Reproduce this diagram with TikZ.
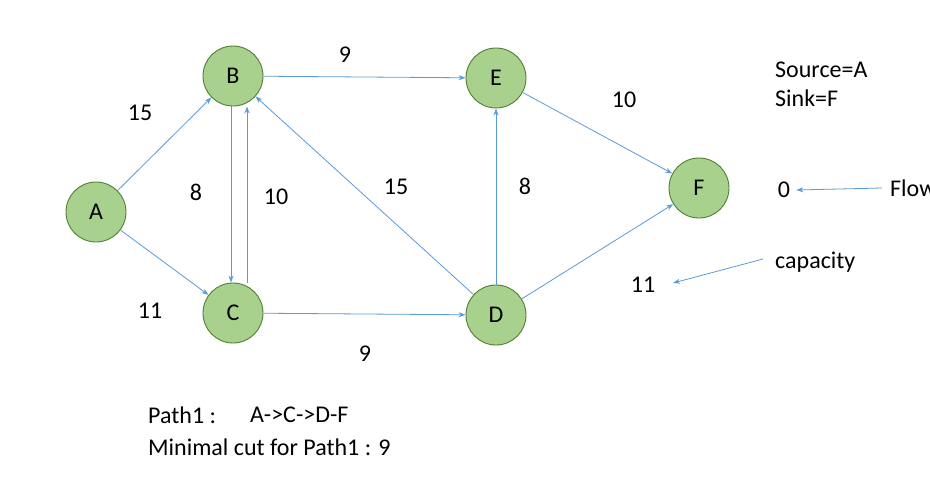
\documentclass[tikz,border=0pt]{standalone}
\usepackage{fontspec}
\setmainfont{Carlito}
\usetikzlibrary{arrows.meta}
\definecolor{nodefill}{HTML}{A9D18E}
\definecolor{nodeline}{HTML}{507E32}
\definecolor{edge}{HTML}{5B9BD5}
\begin{document}
\begin{tikzpicture}[x=1pt,y=-1pt,
  vert/.style={circle,fill=nodefill,draw=nodeline,line width=0.9pt,minimum size=60pt,inner sep=0pt,font=\fontsize{24}{28}\selectfont},
  con/.style={draw=edge,line width=0.8pt,-{Stealth[length=7pt,width=5pt]}},
  lab/.style={font=\fontsize{24}{28}\selectfont,inner sep=0pt}]
\useasboundingbox (0,0) rectangle (930,488);
\fill[white] (0,0) rectangle (930,488);
\node[vert] (A) at (96,212) {A};
\node[vert] (B) at (233,76) {B};
\node[vert] (C) at (233,313) {C};
\node[vert] (E) at (496,78) {E};
\node[vert] (D) at (496,315) {D};
\node[vert] (F) at (699,188) {F};
\draw[con] (A) -- (B);
\draw[con] (A) -- (C);
\draw[con] ([xshift=-2pt]B.south) -- ([xshift=-2pt]C.north);
\draw[con] ([xshift=14pt]C.north) -- ([xshift=14pt]B.south);
\draw[con] (B) -- (E);
\draw[con] (E) -- (F);
\draw[con] (D) -- (B);
\draw[con] (D) -- (E);
\draw[con] (C) -- (D);
\draw[con] (D) -- (F);
\node[lab] (l1) at (140,113) {15};
\node[lab] (l2) at (150,311) {11};
\node[lab] (l3) at (196,192) {8};
\node[lab] (l4) at (276,197) {10};
\node[lab] (l5) at (345,55) {9};
\node[lab] (l6) at (365,354) {9};
\node[lab] (l7) at (396,187) {15};
\node[lab] (l8) at (525,186) {8};
\node[lab] (l9) at (624,100) {10};
\node[lab] (l10) at (643,285) {11};
\node[lab] (zero) at (784,190) {0};
\node[lab,anchor=west] (flow) at (890,188) {Flow};
\node[lab,anchor=west] (cap) at (775,262) {capacity};
\node[lab,anchor=west] (src) at (775,70) {Source=A};
\node[lab,anchor=west] (snk) at (775,98) {Sink=F};
\node[lab,anchor=west] (p1) at (148,415) {Path1 :};
\node[lab,anchor=west] (p2) at (250,415) {A->C->D-F};
\node[lab,anchor=west] (mc) at (148,447) {Minimal cut for Path1 : 9};
\draw[con] ([xshift=-8pt]flow.west) -- ([xshift=6pt]zero.east);
\coordinate (ct) at (673,283);
\draw[con] ([xshift=-12pt,yshift=3pt]cap.west) -- (ct);
\end{tikzpicture}
\end{document}
